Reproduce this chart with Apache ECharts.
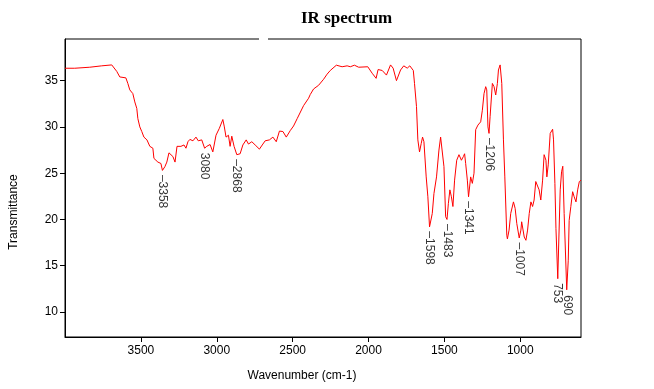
<!DOCTYPE html>
<html><head><meta charset="utf-8">
<script src="https://cdn.jsdelivr.net/npm/echarts@6/dist/echarts.min.js"></script>
<style>html,body{margin:0;padding:0;background:#fff}#c{width:654px;height:389px}</style>
</head><body><div id="c"></div>
<script>
const wavenumbers = [4000,3936,3933,3837,3834,3758,3754,3692,3685,3659,3639,3626,3599,3586,3573,3553,3540,3527,3520,3507,3494,3480,3460,3441,3421,3414,3388,3368,3358,3342,3329,3315,3302,3289,3275,3262,3249,3236,3216,3203,3190,3177,3157,3137,3122,3099,3080,3066,3044,3026,3005,2983,2960,2950,2939,2923,2912,2901,2886,2868,2846,2828,2806,2791,2769,2747,2719,2696,2681,2653,2630,2608,2587,2564,2542,2516,2494,2470,2428,2395,2384,2362,2329,2296,2273,2252,2212,2174,2141,2120,2093,2065,2005,1976,1950,1937,1910,1882,1855,1838,1816,1789,1768,1745,1728,1705,1697,1684,1675,1664,1653,1644,1635,1620,1609,1598,1580,1569,1552,1536,1525,1512,1503,1492,1483,1474,1464,1454,1444,1433,1419,1404,1388,1375,1367,1360,1349,1341,1327,1316,1305,1294,1279,1261,1250,1239,1228,1221,1213,1206,1199,1184,1173,1162,1151,1144,1133,1122,1111,1102,1089,1085,1074,1063,1045,1034,1023,1007,996,991,983,974,963,952,941,930,919,909,898,886,876,865,853,843,831,825,816,803,787,781,772,765,753,748,737,728,720,711,694,690,684,678,667,655,645,633,622,611,600];
const transmittance = [36.34,36.34,36.45,36.45,36.6,36.6,36.7,36.7,36.5,36.0,35.4,35.25,35.3,34.7,34.0,33.6,32.7,32.0,30.9,30.0,29.5,28.9,28.6,27.9,27.7,26.6,26.2,26.05,25.3,25.7,26.2,27.2,27.0,26.8,26.2,27.9,28.05,27.9,28.05,27.7,28.4,28.65,28.5,28.9,28.5,28.6,27.7,27.9,28.1,27.3,29.1,29.85,30.8,30.0,28.9,29.1,27.9,29.0,27.9,27.0,27.1,28.05,28.6,28.15,28.4,28.05,27.6,28.15,28.5,28.6,28.9,28.4,29.55,29.5,28.9,29.6,30.1,30.9,32.3,33.1,33.5,34.1,34.5,35.15,35.7,36.1,36.67,36.5,36.6,36.5,36.67,36.45,36.5,35.8,35.25,36.2,36.1,35.6,36.7,36.35,35.0,36.15,36.6,36.35,36.6,36.1,34.7,32.2,28.6,27.3,28.2,28.9,28.4,24.6,22.45,19.2,20.65,22.8,24.6,27.5,28.9,29.1,25.7,20.3,20.0,21.7,23.2,22.45,21.4,24.25,26.4,27.0,26.4,26.8,27.1,26.05,24.25,22.45,24.6,23.9,25.0,29.7,30.2,30.55,31.8,33.6,34.35,34.0,30.0,29.3,31.1,34.7,34.35,33.45,34.7,36.15,36.7,34.7,28.6,24.6,18.3,17.9,18.85,20.65,21.9,21.2,19.55,18.0,18.85,19.75,19.9,18.1,17.75,18.85,20.65,21.9,21.4,22.1,24.1,24.25,23.2,22.1,24.25,27.0,26.4,24.6,25.9,29.3,29.75,28.6,23.9,19.0,13.6,16.7,23.2,25.15,25.75,20.65,12.4,12.3,15.6,19.9,21.4,23.0,22.45,21.9,23.2,24.1,24.25];
const peakWavenumbers = [3358,3080,2868,1598,1483,1341,1206,1007,753,690];
const peakTransmittance = [25.3,27.7,27.0,19.2,20.0,22.45,29.3,18.0,13.6,12.3];
const peakLabels = ['\u20133358','3080','\u20132868','\u20131598','\u20131483','\u20131341','\u20131206','\u20131007','753','690'];
const xTicks = [1000,1500,2000,2500,3000,3500];
const yTicks = [10,15,20,25,30,35];

const FONT = "'Liberation Sans', Arial, sans-serif";
const spectrum = wavenumbers.map((w, i) => [w, transmittance[i]]);
const peaks = peakWavenumbers.map((w, i) => [w, peakTransmittance[i]]);

const chart = echarts.init(document.getElementById('c'), null, {renderer: 'canvas'});
chart.setOption({
  animation: false,
  backgroundColor: '#fff',
  title: {
    text: 'IR spectrum', left: 296, top: 5,
    textStyle: {fontFamily: "'Liberation Serif', 'Times New Roman', serif", fontWeight: 'bold', fontSize: 17, color: '#000'}
  },
  grid: {left: 65, top: 39, right: 73, bottom: 52, show: true, borderColor: '#000', borderWidth: 1, backgroundColor: 'transparent'},
  xAxis: {
    type: 'value', min: 600, max: 4000, inverse: true,
    name: 'Wavenumber (cm-1)', nameLocation: 'middle', nameGap: 33,
    nameTextStyle: {fontFamily: FONT, fontSize: 12, color: '#000', padding: [0, 42, 0, 0]},
    axisLine: {show: true, lineStyle: {color: '#000', width: 1}},
    axisTick: {show: true, length: 5, customValues: xTicks, lineStyle: {color: '#000'}},
    axisLabel: {customValues: xTicks, color: '#000', fontFamily: FONT, fontSize: 12, margin: 8, formatter: v => String(v)},
    splitLine: {show: false}
  },
  yAxis: {
    type: 'value', min: 7.3, max: 39.5,
    name: 'Transmittance', nameLocation: 'middle', nameGap: 45,
    nameTextStyle: {fontFamily: FONT, fontSize: 12, color: '#000', padding: [0, 48, 0, 0]},
    axisLine: {show: true, lineStyle: {color: '#000', width: 1}},
    axisTick: {show: true, length: 5, customValues: yTicks, lineStyle: {color: '#000'}},
    axisLabel: {customValues: yTicks, color: '#000', fontFamily: FONT, fontSize: 12, margin: 7, formatter: v => String(v)},
    splitLine: {show: false}
  },
  series: [
    {
      type: 'line', data: spectrum, showSymbol: false, symbol: 'none', silent: true,
      lineStyle: {color: '#ff0000', width: 1}, z: 3
    },
    {
      type: 'scatter', data: peaks, symbol: 'circle', symbolSize: 1, silent: true,
      itemStyle: {color: 'rgba(0,0,0,0)'},
      labelLayout: {hideOverlap: false},
      label: {
        show: true, position: 'bottom', distance: 4, rotate: -90,
        align: 'left', verticalAlign: 'middle',
        fontFamily: FONT, fontSize: 12, color: '#000',
        formatter: p => peakLabels[p.dataIndex]
      }, z: 4
    }
  ],
  graphic: [
    {type: 'rect', shape: {x: 259, y: 37, width: 9, height: 4}, style: {fill: '#fff'}, z: 100}
  ]
});
</script>
</body></html>
